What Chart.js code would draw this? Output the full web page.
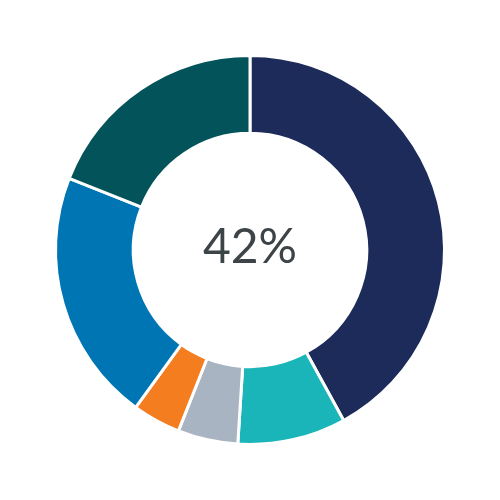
<!DOCTYPE html>
<html>
<head>
<meta charset="utf-8">
<script src="https://cdn.jsdelivr.net/npm/chart.js@4/dist/chart.umd.min.js"></script>
<style>
  html, body { margin: 0; padding: 0; background: #ffffff; }
  #wrap { position: relative; width: 500px; height: 500px; }
  #centerLabel {
    position: absolute; left: 0; top: -6px; width: 500px; height: 500px;
    display: flex; align-items: center; justify-content: center;
    font-family: "Lato", "Open Sans", sans-serif; font-weight: 400;
    font-size: 48px; color: #3d4448; pointer-events: none;
  }
</style>
</head>
<body>
<div id="wrap">
  <canvas id="donut" width="500" height="500"></canvas>
  <div id="centerLabel"></div>
</div>
<script>
// Segments clockwise from 12 o'clock
const labels = ['Navy', 'Teal', 'Gray', 'Orange', 'Blue', 'Green'];
const values = [42, 9, 5, 4, 21, 19];
const colors = ['#1c2b5a', '#1ab5b8', '#a9b4c2', '#f47d20', '#0075b4', '#02535a'];
const centerText = '42%';

document.getElementById('centerLabel').textContent = centerText;

new Chart(document.getElementById('donut').getContext('2d'), {
    type: 'doughnut',
    data: {
        labels: labels,
        datasets: [{
            data: values,
            backgroundColor: colors,
            borderColor: '#ffffff',
            borderWidth: 3
        }]
    },
    options: {
        responsive: false,
        animation: false,
        cutout: '60%',
        layout: { padding: 54 },
        plugins: {
            legend: { display: false },
            tooltip: { enabled: false }
        }
    }
});
</script>
</body>
</html>
